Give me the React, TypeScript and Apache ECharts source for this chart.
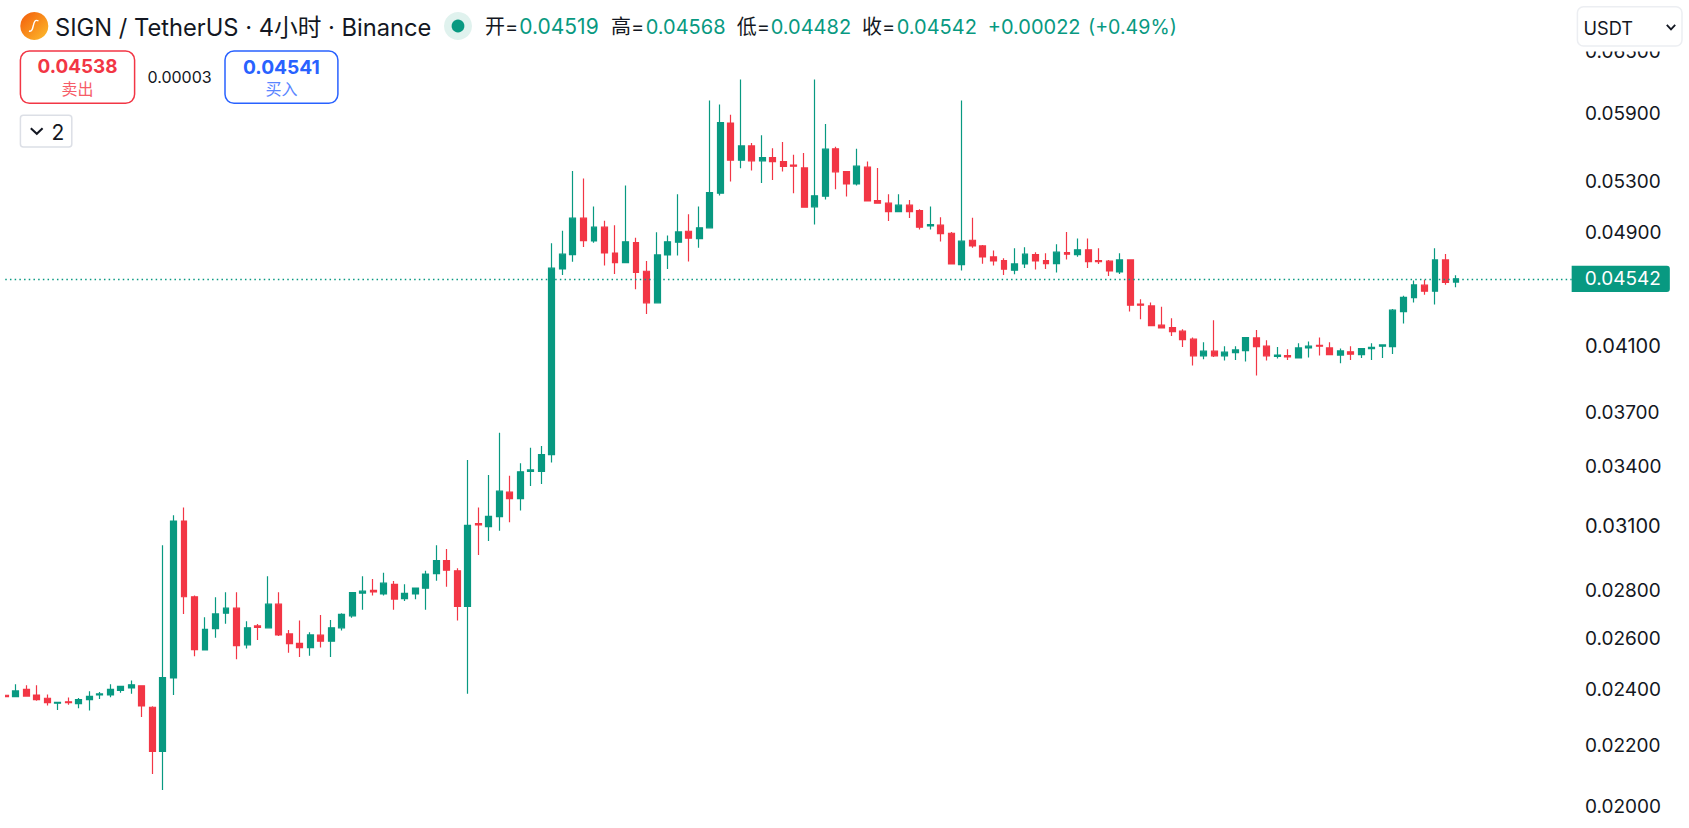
import React, { useEffect, useRef } from "react";
import * as echarts from "echarts";

const FONT = "Inter, 'Noto Sans CJK SC', sans-serif";
const GREEN = "#089981";
const RED = "#F23645";
const BLUE = "#2962FF";
const INK = "#131722";

const opens = [
  0.02372,0.02367,0.02394,0.02373,0.02361,0.02343,0.02348,0.02341,0.02356,0.02373,
  0.02373,0.02390,0.02399,0.02407,0.02328,0.02173,0.02437,0.03113,0.02766,0.02546,
  0.02632,0.02696,0.02717,0.02566,0.02643,0.02635,0.02734,0.02610,0.02572,0.02555,
  0.02605,0.02581,0.02635,0.02685,0.02782,0.02794,0.02778,0.02820,0.02758,0.02778,
  0.02803,0.02868,0.02926,0.02880,0.02725,0.03100,0.03086,0.03134,0.03256,0.03224,
  0.03364,0.03364,0.03453,0.04613,0.04717,0.04993,0.04819,0.04923,0.04729,0.04659,
  0.04806,0.04596,0.04375,0.04715,0.04809,0.04892,0.04836,0.04918,0.05191,0.05791,
  0.05466,0.05589,0.05460,0.05488,0.05454,0.05423,0.05400,0.05082,0.05167,0.05563,
  0.05369,0.05267,0.05406,0.05132,0.05111,0.05044,0.05095,0.05052,0.04933,0.04939,
  0.04877,0.04644,0.04824,0.04781,0.04700,0.04673,0.04604,0.04649,0.04717,0.04673,
  0.04651,0.04732,0.04717,0.04752,0.04673,0.04669,0.04591,0.04678,0.04366,0.04354,
  0.04225,0.04209,0.04186,0.04134,0.04028,0.04057,0.04028,0.04048,0.04061,0.04142,
  0.04089,0.04024,0.04030,0.04015,0.04078,0.04095,0.04078,0.04033,0.04053,0.04035,
  0.04074,0.04089,0.04086,0.04316,0.04411,0.04497,0.04455,0.04678,0.04519,
];
const closes = [
  0.02367,0.02388,0.02369,0.02356,0.02345,0.02346,0.02345,0.02356,0.02368,0.02377,
  0.02394,0.02405,0.02411,0.02333,0.02173,0.02438,0.03113,0.02766,0.02547,0.02629,
  0.02693,0.02717,0.02563,0.02635,0.02637,0.02734,0.02606,0.02571,0.02555,0.02606,
  0.02581,0.02635,0.02691,0.02784,0.02790,0.02787,0.02825,0.02756,0.02781,0.02804,
  0.02866,0.02926,0.02883,0.02725,0.03092,0.03094,0.03136,0.03261,0.03224,0.03361,
  0.03371,0.03453,0.04618,0.04720,0.04993,0.04821,0.04923,0.04729,0.04659,0.04812,
  0.04587,0.04375,0.04715,0.04812,0.04887,0.04839,0.04918,0.05196,0.05796,0.05466,
  0.05589,0.05460,0.05488,0.05454,0.05412,0.05415,0.05079,0.05170,0.05560,0.05367,
  0.05267,0.05415,0.05129,0.05111,0.05044,0.05095,0.05044,0.04923,0.04943,0.04874,
  0.04649,0.04817,0.04781,0.04700,0.04671,0.04611,0.04649,0.04720,0.04671,0.04651,
  0.04735,0.04720,0.04752,0.04666,0.04666,0.04598,0.04678,0.04359,0.04359,0.04222,
  0.04207,0.04183,0.04131,0.04028,0.04057,0.04028,0.04051,0.04065,0.04144,0.04086,
  0.04028,0.04033,0.04021,0.04078,0.04089,0.04089,0.04035,0.04059,0.04038,0.04074,
  0.04082,0.04097,0.04325,0.04413,0.04499,0.04455,0.04678,0.04516,0.04542,
];
const lows = [
  0.02367,0.02367,0.02369,0.02352,0.02334,0.02318,0.02337,0.02324,0.02316,0.02358,
  0.02365,0.02381,0.02378,0.02293,0.02098,0.02046,0.02373,0.02693,0.02521,0.02546,
  0.02595,0.02652,0.02509,0.02551,0.02586,0.02635,0.02602,0.02535,0.02518,0.02523,
  0.02555,0.02518,0.02624,0.02677,0.02710,0.02771,0.02771,0.02711,0.02748,0.02755,
  0.02711,0.02836,0.02809,0.02665,0.02378,0.02952,0.03017,0.03066,0.03107,0.03164,
  0.03288,0.03298,0.03410,0.04570,0.04664,0.04774,0.04806,0.04637,0.04577,0.04659,
  0.04469,0.04300,0.04375,0.04613,0.04710,0.04666,0.04767,0.04918,0.05172,0.05286,
  0.05398,0.05378,0.05275,0.05300,0.05369,0.05191,0.05079,0.04943,0.05140,0.05224,
  0.05164,0.05253,0.05129,0.05111,0.04970,0.05044,0.04995,0.04905,0.04905,0.04814,
  0.04649,0.04601,0.04767,0.04651,0.04637,0.04570,0.04575,0.04620,0.04608,0.04613,
  0.04587,0.04681,0.04702,0.04620,0.04649,0.04563,0.04577,0.04316,0.04265,0.04222,
  0.04207,0.04155,0.04084,0.03967,0.04007,0.04021,0.03998,0.04002,0.03992,0.03906,
  0.03998,0.04011,0.04002,0.04011,0.04017,0.04030,0.04035,0.03982,0.04002,0.04015,
  0.04002,0.04015,0.04040,0.04236,0.04377,0.04431,0.04363,0.04501,0.04482,
];
const highs = [
  0.02372,0.02413,0.02409,0.02409,0.02375,0.02346,0.02364,0.02362,0.02387,0.02384,
  0.02413,0.02407,0.02427,0.02407,0.02332,0.02997,0.03141,0.03179,0.02771,0.02679,
  0.02764,0.02785,0.02785,0.02662,0.02651,0.02856,0.02785,0.02626,0.02665,0.02617,
  0.02688,0.02668,0.02696,0.02787,0.02856,0.02844,0.02871,0.02835,0.02821,0.02804,
  0.02881,0.02997,0.02980,0.02892,0.03424,0.03179,0.03345,0.03573,0.03341,0.03407,
  0.03490,0.03500,0.04802,0.04895,0.05375,0.05311,0.05084,0.04972,0.04939,0.05254,
  0.04842,0.04671,0.04885,0.04859,0.05183,0.05024,0.05084,0.05998,0.05961,0.05866,
  0.06198,0.05615,0.05683,0.05569,0.05624,0.05513,0.05528,0.06198,0.05782,0.05581,
  0.05369,0.05563,0.05454,0.05400,0.05183,0.05183,0.05137,0.05063,0.05084,0.05001,
  0.04887,0.05998,0.04997,0.04789,0.04747,0.04691,0.04764,0.04772,0.04735,0.04727,
  0.04794,0.04887,0.04837,0.04837,0.04764,0.04678,0.04727,0.04678,0.04400,0.04377,
  0.04349,0.04271,0.04199,0.04144,0.04115,0.04258,0.04089,0.04089,0.04146,0.04194,
  0.04127,0.04084,0.04070,0.04108,0.04119,0.04144,0.04115,0.04074,0.04089,0.04074,
  0.04108,0.04102,0.04334,0.04424,0.04530,0.04535,0.04764,0.04722,0.04568,
];
const priceTicks = [0.065, 0.059, 0.053, 0.049, 0.041, 0.037, 0.034, 0.031, 0.028, 0.026, 0.024, 0.022, 0.02];
const BAR_SLOTS = 150;
const lastPrice = 0.04542;
const ohlcLegend = [
  { text: "开=", x: 485, color: INK, size: 20 },
  { text: "0.04519", x: 519.3, color: GREEN, size: 21 },
  { text: "高=", x: 611, color: INK, size: 20 },
  { text: "0.04568", x: 645.7, color: GREEN, size: 20 },
  { text: "低=", x: 736.7, color: INK, size: 20 },
  { text: "0.04482", x: 770.7, color: GREEN, size: 20 },
  { text: "收=", x: 862, color: INK, size: 20 },
  { text: "0.04542", x: 896.7, color: GREEN, size: 20 },
  { text: "+0.00022", x: 987.7, color: GREEN, size: 20 },
  { text: "(+0.49%)", x: 1088, color: GREEN, size: 19.6 },
];

const label = (text: string, x: number, y: number, fontSize: number, fill: string, align = "left", fontWeight: any = 400, extra: any = {}) => ({
  type: "text",
  x,
  y,
  z: 60,
  silent: true,
  style: { text, fill, fontSize, fontFamily: FONT, fontWeight, align, verticalAlign: "middle", ...extra },
});
const box = (x: number, y: number, width: number, height: number, r: number, stroke: string, lineWidth = 1.5, z = 55) => ({
  type: "rect",
  z,
  silent: true,
  shape: { x, y, width, height, r },
  style: { fill: "#fff", stroke, lineWidth },
});

export default function App() {
  const ref = useRef<HTMLDivElement>(null);
  useEffect(() => {
    const chart = echarts.init(ref.current!, undefined, { renderer: "svg" });
    const categories = Array.from({ length: BAR_SLOTS }, (_, i) => String(i));
    const candles = opens.map((o, i) => [o, closes[i], lows[i], highs[i]]);
    chart.setOption({
      animation: false,
      backgroundColor: "#fff",
      grid: { left: -0.78, top: 40, width: 1577.7, height: 788, containLabel: false },
      xAxis: {
        type: "category",
        data: categories,
        boundaryGap: true,
        axisLine: { show: false },
        axisTick: { show: false },
        axisLabel: { show: false },
        splitLine: { show: false },
      },
      yAxis: {
        type: "log",
        logBase: 10,
        position: "right",
        min: 0.019283,
        max: 0.065928,
        axisLine: { show: false },
        axisTick: { show: false },
        splitLine: { show: false },
        minorTick: { show: false },
        axisLabel: {
          show: true,
          customValues: priceTicks,
          margin: 8,
          color: INK,
          fontSize: 19,
          fontFamily: FONT,
          align: "left",
          padding: [4, 0, 0, 0],
          formatter: (v: number) => {
            const s = v.toFixed(5);
            return s.includes("1") ? `{w|${s}}` : s;
          },
          rich: { w: { fontSize: 20, color: INK, fontFamily: FONT } },
        },
      },
      series: [
        {
          type: "candlestick",
          data: candles,
          barWidth: 6.4,
          itemStyle: { color: GREEN, color0: RED, borderColor: GREEN, borderColor0: RED, borderWidth: 1.2 },
          markLine: {
            silent: true,
            symbol: "none",
            animation: false,
            lineStyle: { color: GREEN, type: [1.5, 3.2], width: 1.4 },
            label: {
              show: true,
              position: "end",
              distance: 0,
              formatter: lastPrice.toFixed(5),
              color: "#fff",
              fontSize: 19,
              lineHeight: 19,
              fontFamily: FONT,
              backgroundColor: GREEN,
              padding: [5, 9, 2.3, 13],
              borderRadius: [0, 3, 3, 0],
            },
            data: [[{ xAxis: 0, yAxis: lastPrice }, { xAxis: BAR_SLOTS - 1, yAxis: lastPrice }]],
          },
        },
      ],
      graphic: {
        elements: [
          { type: "rect", z: 50, silent: true, shape: { x: 0, y: 40, width: 5, height: 788 }, style: { fill: "#fff" } },
          { type: "rect", z: 50, silent: true, shape: { x: 1572, y: 0, width: 117, height: 51.5 }, style: { fill: "#fff" } },
          {
            type: "circle",
            z: 60,
            silent: true,
            shape: { cx: 34.3, cy: 26, r: 14 },
            style: {
              fill: {
                type: "linear", x: 0.1, y: 0.1, x2: 0.9, y2: 0.9,
                colorStops: [{ offset: 0, color: "#f4650e" }, { offset: 1, color: "#fcb42a" }],
              },
            },
          },
          {
            type: "bezierCurve", z: 61, silent: true,
            shape: { x1: 29, y1: 31, cpx1: 35, cpy1: 33, cpx2: 31.5, cpy2: 17, x2: 38.5, y2: 21 },
            style: { stroke: "#fff", lineWidth: 1.4, fill: "none" },
          },
          label("SIGN / TetherUS · 4小时 · Binance", 55, 27, 23.7, INK),
          { type: "circle", z: 60, silent: true, shape: { cx: 458, cy: 26, r: 14 }, style: { fill: "#e0f2ee" } },
          { type: "circle", z: 61, silent: true, shape: { cx: 458, cy: 26, r: 6.4 }, style: { fill: GREEN } },
          ...ohlcLegend.map((s) => label(s.text, s.x, 26.7, s.size, s.color)),
          box(20.4, 51, 114.2, 52.3, 9, RED),
          label("0.04538", 77.5, 66.7, 18.9, RED, "center", 700),
          label("卖出", 77.5, 88.7, 16, "#f65c68", "center"),
          label("0.00003", 179.6, 77.3, 16, INK, "center"),
          box(225, 51, 112.9, 52.3, 9, BLUE),
          label("0.04541", 281.4, 66.7, 19.2, BLUE, "center", 700),
          label("买入", 281.4, 88.7, 16, "#5a86ff", "center"),
          box(20.4, 115.3, 51.4, 31.7, 3, "#dcdfe6"),
          {
            type: "polyline", z: 60, silent: true,
            shape: { points: [[30.8, 128.2], [36.8, 133.8], [42.6, 128.2]] },
            style: { stroke: INK, lineWidth: 2, fill: "none" },
          },
          label("2", 57.9, 132, 21, INK, "center"),
          box(1577.4, 6.7, 104.6, 39.3, 6, "#eceef2"),
          label("USDT", 1583.5, 27.5, 18.2, INK),
          {
            type: "polyline", z: 60, silent: true,
            shape: { points: [[1666.8, 24.8], [1671, 29.4], [1675.2, 24.8]] },
            style: { stroke: INK, lineWidth: 1.8, fill: "none" },
          },
        ],
      },
    });
    return () => chart.dispose();
  }, []);
  return <div ref={ref} style={{ position: "fixed", left: 0, top: 0, width: 1689, height: 828 }} />;
}
